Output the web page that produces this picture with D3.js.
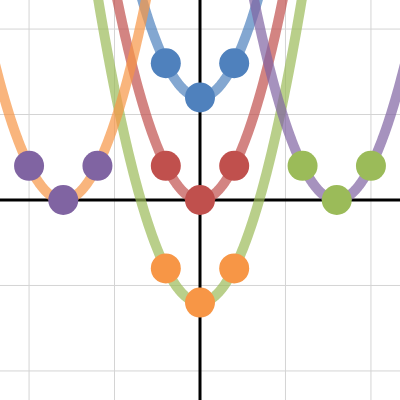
<!DOCTYPE html>
<html>
<head>
<script src="https://cdn.jsdelivr.net/npm/d3@7"></script>
<style>body{margin:0;background:#fff}</style>
</head>
<body>
<div id="chart"></div>
<script>
// parabolas: y = (x - h)^2 + k
var curves = [
  {h: 0, k: 3, color: "#4f81bd"},
  {h: 0, k: 0, color: "#c0504d"},
  {h: 0, k: -3, color: "#9bbb59"},
  {h: -4, k: 0, color: "#f79646"},
  {h: 4, k: 0, color: "#8064a2"}
];
// points [x, y, color]
var points = [
  [-1, 4, "#4f81bd"], [0, 3, "#4f81bd"], [1, 4, "#4f81bd"],
  [-1, 1, "#c0504d"], [0, 0, "#c0504d"], [1, 1, "#c0504d"],
  [-1, -2, "#f79646"], [0, -3, "#f79646"], [1, -2, "#f79646"],
  [-5, 1, "#8064a2"], [-4, 0, "#8064a2"], [-3, 1, "#8064a2"],
  [3, 1, "#9bbb59"], [4, 0, "#9bbb59"], [5, 1, "#9bbb59"]
];
var gridVals = [-7.5, -5, -2.5, 2.5, 5, 7.5];

var width = 400, height = 400;
var x = d3.scaleLinear().domain([-5.85, 5.85]).range([0, width]);
var y = d3.scaleLinear().domain([-5.85, 5.85]).range([height, 0]);

var svg = d3.select("#chart").append("svg")
  .attr("width", width).attr("height", height);

// grid
svg.selectAll(".gx").data(gridVals).enter().append("line")
  .attr("x1", d => x(d)).attr("x2", d => x(d))
  .attr("y1", 0).attr("y2", height)
  .attr("stroke", "#d4d4d4").attr("stroke-width", 1);
svg.selectAll(".gy").data(gridVals).enter().append("line")
  .attr("y1", d => y(d)).attr("y2", d => y(d))
  .attr("x1", 0).attr("x2", width)
  .attr("stroke", "#d4d4d4").attr("stroke-width", 1);

// axes
svg.append("line").attr("x1", x(0)).attr("x2", x(0)).attr("y1", 0).attr("y2", height)
  .attr("stroke", "#000").attr("stroke-width", 3);
svg.append("line").attr("y1", y(0)).attr("y2", y(0)).attr("x1", 0).attr("x2", width)
  .attr("stroke", "#000").attr("stroke-width", 3);

var line = d3.line().x(d => x(d[0])).y(d => y(d[1]));
curves.forEach(function(c) {
  var pts = d3.range(-7, 7.001, 0.02).map(t => [t, (t - c.h) * (t - c.h) + c.k]);
  svg.append("path").datum(pts)
    .attr("d", line)
    .attr("fill", "none")
    .attr("stroke", c.color)
    .attr("stroke-width", 10)
    .attr("stroke-opacity", 0.7);
});

svg.selectAll(".pt").data(points).enter().append("circle")
  .attr("cx", d => x(d[0])).attr("cy", d => y(d[1]))
  .attr("r", 15)
  .attr("fill", d => d[2]);
</script>
</body>
</html>
